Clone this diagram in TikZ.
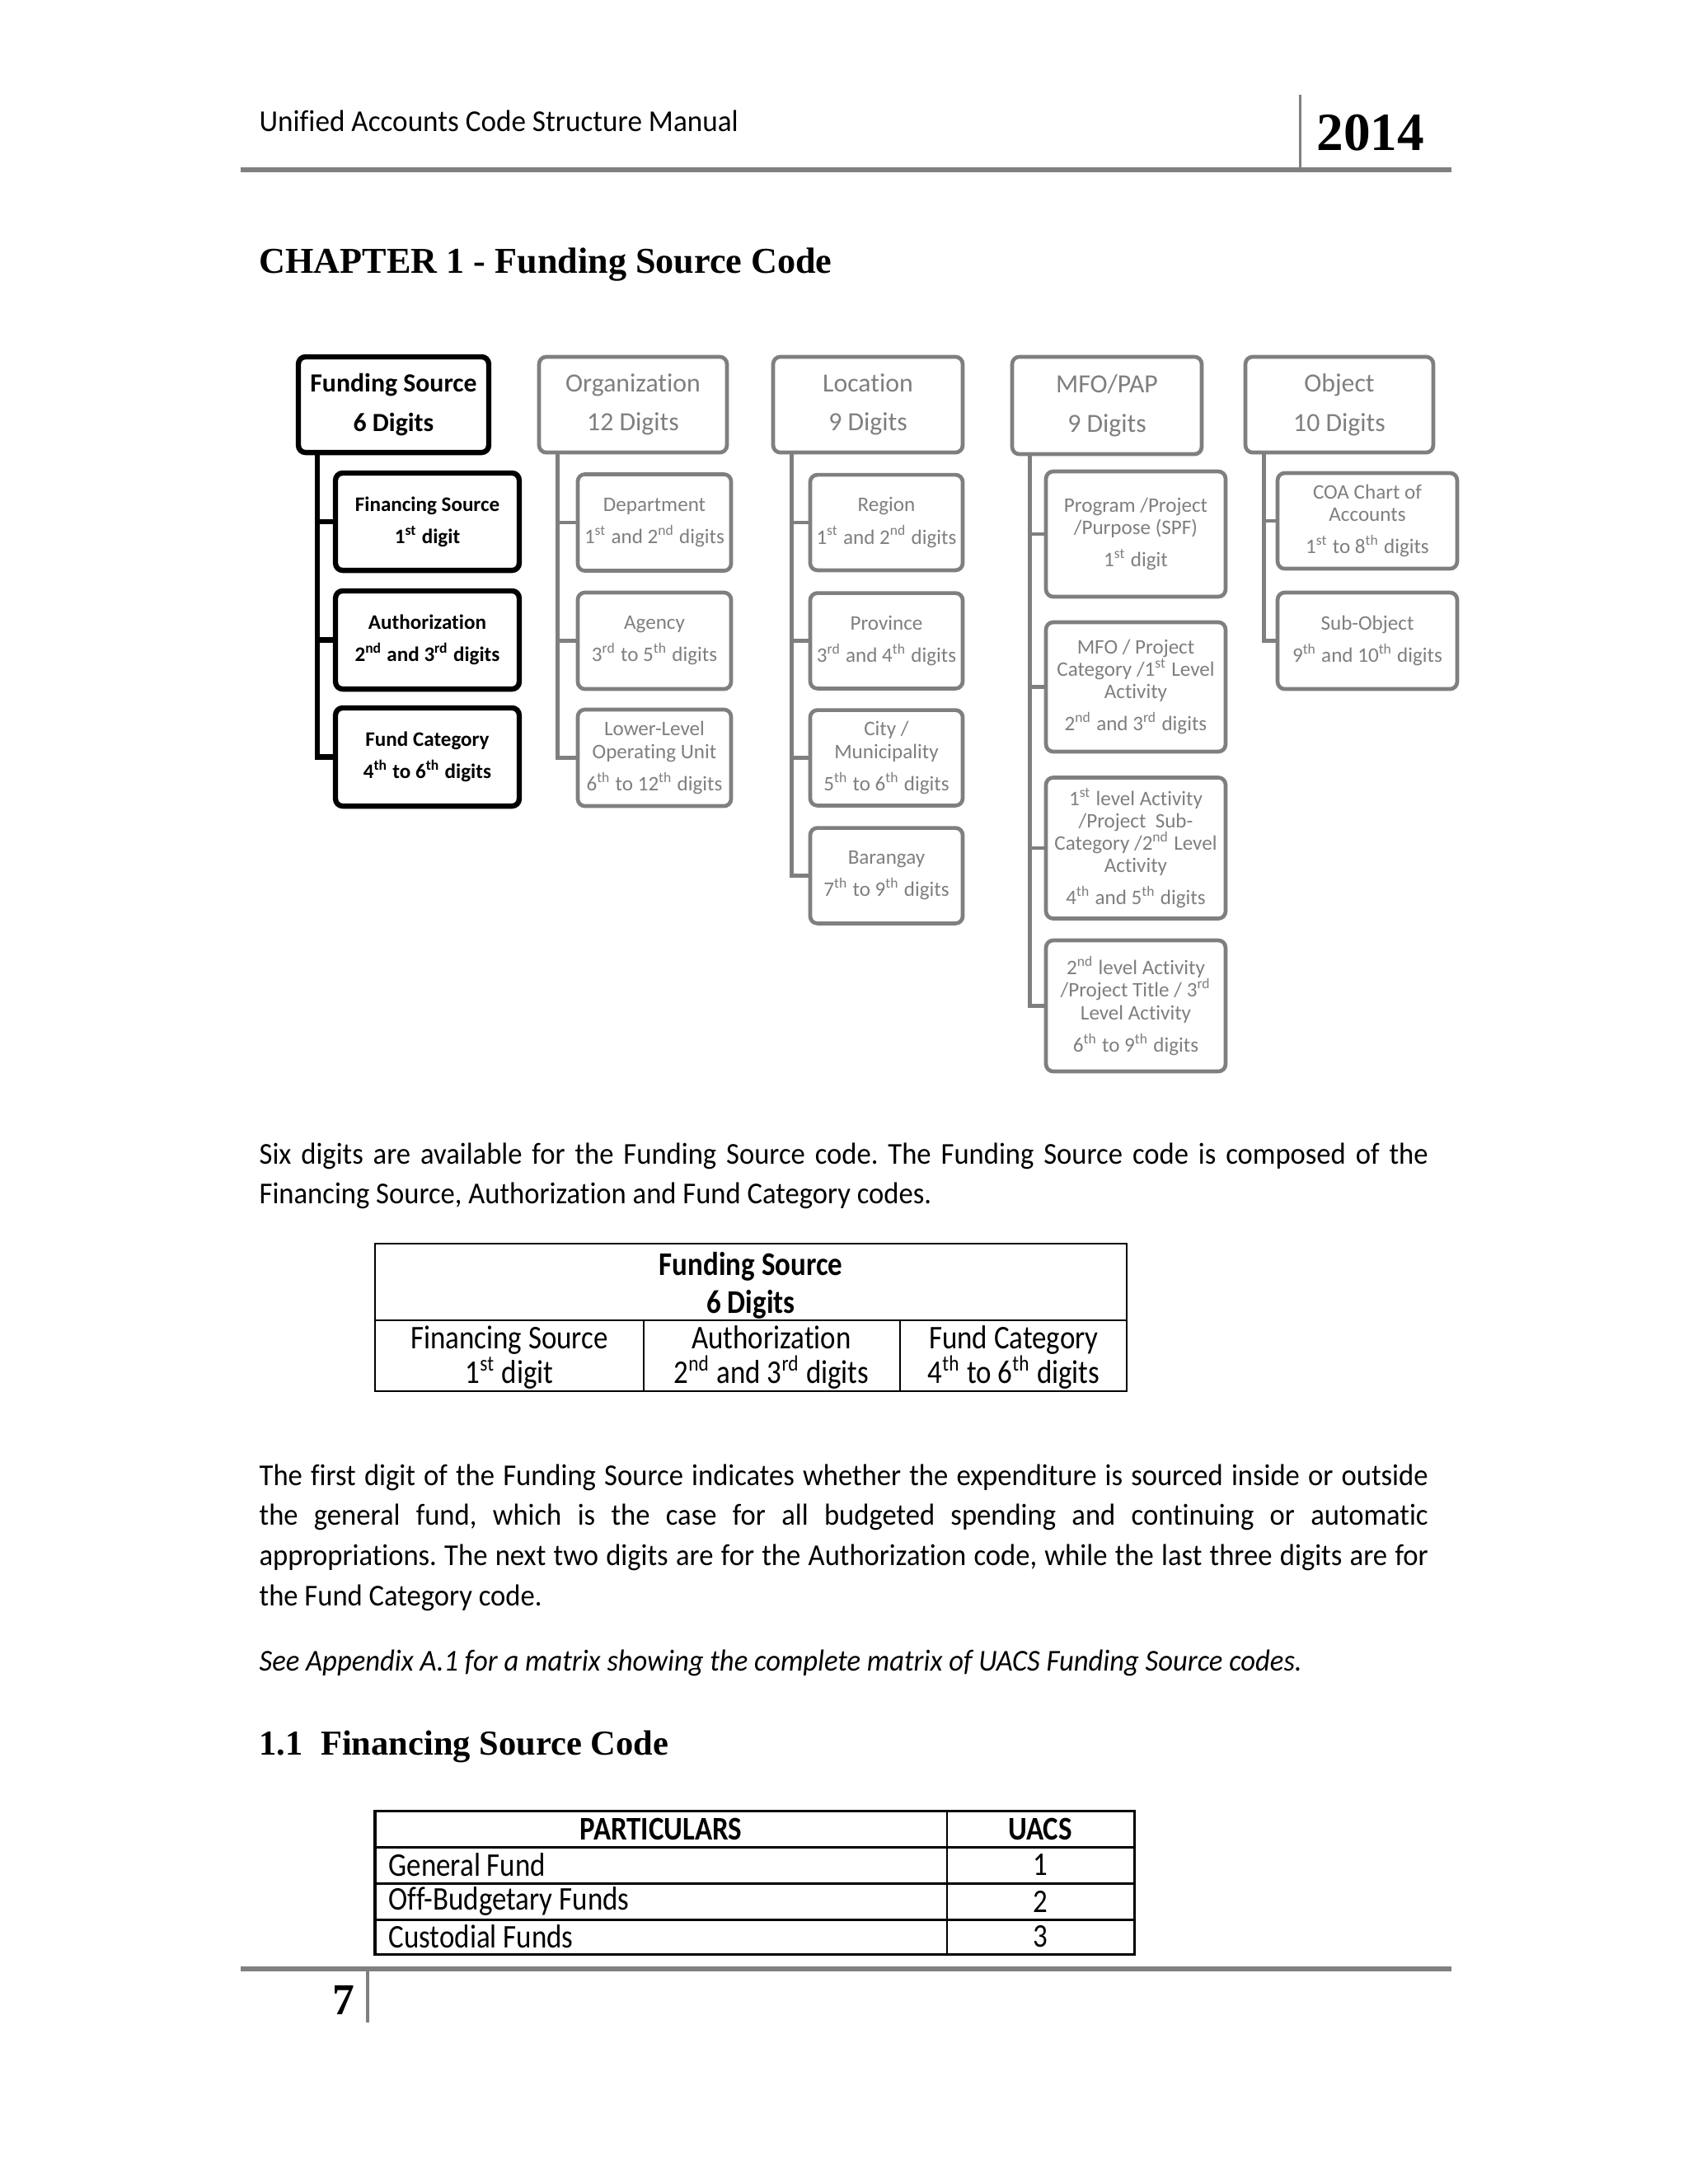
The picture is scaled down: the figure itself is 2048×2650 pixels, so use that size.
\documentclass[tikz,border=0pt]{standalone}
\usepackage{fontspec}
\setmainfont{Carlito}[Ligatures=NoCommon]
\newfontfamily\bodyfont{Carlito}[FakeStretch=0.94,Ligatures=NoCommon]
\newfontfamily\tablefont{Carlito}[FakeStretch=0.87,Ligatures=NoCommon]
\newfontfamily\headserif{Liberation Serif}
\usepackage{tikz}
\definecolor{boxgray}{HTML}{7F7F7F}
\definecolor{rulegray}{HTML}{808080}
\newcommand{\ord}[1]{\textsuperscript{#1}}
\tikzset{
  lvlbox/.style={draw=boxgray,text=boxgray,line width=1.4pt,rounded corners=2.6pt,align=center,inner sep=0pt},
  lvlhead/.style={lvlbox,font=\fontsize{9.5}{11}\selectfont,minimum height=34.7pt},
  lvlsub/.style={lvlbox,font=\fontsize{7.5}{8.1}\selectfont},
  keyhead/.style={lvlhead,draw=black,text=black,line width=1.9pt,font=\fontsize{9.5}{11}\selectfont\bfseries},
  keysub/.style={lvlsub,draw=black,text=black,line width=1.9pt,font=\fontsize{7.5}{8.1}\selectfont\bfseries},
  trunk/.style={boxgray,line width=1.4pt},
  keytrunk/.style={black,line width=2pt},
  para/.style={text width=423.8pt,align=justify,inner sep=0pt,font=\bodyfont\fontsize{11}{14.6}\selectfont\frenchspacing,anchor=base west},
  cell/.style={inner sep=0pt,align=center,font=\tablefont\fontsize{12}{13.7}\selectfont}
}

\begin{document}
\begin{tikzpicture}[x=0.29883pt,y=-0.29883pt]
  \useasboundingbox (0,0) rectangle (2048,2650);
  \fill[white] (0,0) rectangle (2048,2650);
  % page header
  \node[anchor=west,inner sep=0pt,font=\fontsize{11}{13}\selectfont] (runhead) at (314,147) {\addfontfeature{FakeStretch=0.955}Unified Accounts Code Structure Manual};
  \node[anchor=west,inner sep=0pt,font=\headserif\fontsize{19.5}{22}\selectfont\bfseries] (year) at (1597,161) {2014};
  \draw[rulegray,line width=1.8pt] (292,206) -- (1761,206);
  \draw[rulegray,line width=0.9pt] (1577,115) -- (1577,206);
  \node[anchor=west,inner sep=0pt,font=\headserif\fontsize{13.2}{15}\selectfont\bfseries] (chap) at (314,321) {CHAPTER 1 - Funding Source Code};

  % funding source (highlighted)
  \node[keyhead,minimum width=69pt] (fs) at (477.5,491) {Funding Source\\[3.2pt]6 Digits};
  \coordinate (fsT) at ([xshift=7.8pt]fs.south west);
  \node[keysub,minimum width=66.6pt,minimum height=35.3pt] (fs1) at (518.5,633) {Financing Source\\[3.6pt]1\ord{st} digit};
  \node[keysub,minimum width=66.6pt,minimum height=35.6pt] (fs2) at (518.5,776.5) {Authorization\\[3.6pt]2\ord{nd} and 3\ord{rd} digits};
  \node[keysub,minimum width=66.6pt,minimum height=35.6pt] (fs3) at (518.5,918.5) {Fund Category\\[3.6pt]4\ord{th} to 6\ord{th} digits};
  \foreach \k in {1,2,3}{\draw[keytrunk] (fsT) |- (fs\k.west);}

  % organization
  \node[lvlhead,minimum width=68.1pt] (og) at (768,491) {Organization\\[3.2pt]12 Digits};
  \coordinate (ogT) at ([xshift=7.5pt]og.south west);
  \foreach \k/\y/\t in {1/634/{Department\\[3.6pt]1\ord{st} and 2\ord{nd} digits},
                        2/777.5/{Agency\\[3.6pt]3\ord{rd} to 5\ord{th} digits},
                        3/919.5/{Lower-Level\\Operating Unit\\[3.6pt]6\ord{th} to 12\ord{th} digits}}{
    \node[lvlsub,minimum width=55.6pt,minimum height=35pt] (og\k) at (794,\y) {\t};
    \draw[trunk] (ogT) |- (og\k.west);
  }

  % location
  \node[lvlhead,minimum width=68.7pt] (lc) at (1053,491) {Location\\[3.2pt]9 Digits};
  \coordinate (lcT) at ([xshift=7.5pt]lc.south west);
  \foreach \k/\y/\t in {1/634/{Region\\[3.6pt]1\ord{st} and 2\ord{nd} digits},
                        2/777.5/{Province\\[3.6pt]3\ord{rd} and 4\ord{th} digits},
                        3/919.5/{City /\\Municipality\\[3.6pt]5\ord{th} to 6\ord{th} digits},
                        4/1062.5/{Barangay\\[3.6pt]7\ord{th} to 9\ord{th} digits}}{
    \node[lvlsub,minimum width=55.3pt,minimum height=34.6pt] (lc\k) at (1075.5,\y) {\t};
    \draw[trunk] (lcT) |- (lc\k.west);
  }

  % mfo/pap
  \node[lvlhead,minimum width=68.7pt,minimum height=35.3pt] (mf) at (1343,492) {MFO/PAP\\[3.2pt]9 Digits};
  \coordinate (mfT) at ([xshift=7.2pt]mf.south west);
  \node[lvlsub,minimum width=65.1pt,minimum height=45.4pt] (mf1) at (1378,648) {Program /Project\\/Purpose (SPF)\\[3.6pt]1\ord{st} digit};
  \node[lvlsub,minimum width=65.1pt,minimum height=46.9pt] (mf2) at (1378,833.5) {MFO / Project\\Category /1\ord{st} Level\\Activity\\[3.6pt]2\ord{nd} and 3\ord{rd} digits};
  \node[lvlsub,minimum width=65.1pt,minimum height=51.1pt] (mf3) at (1378,1029) {1\ord{st} level Activity\\/Project\ \ Sub-\\Category /2\ord{nd} Level\\Activity\\[3.6pt]4\ord{th} and 5\ord{th} digits};
  \node[lvlsub,minimum width=65.1pt,minimum height=47.5pt] (mf4) at (1378,1220.5) {2\ord{nd} level Activity\\/Project Title / 3\ord{rd}\\Level Activity\\[3.6pt]6\ord{th} to 9\ord{th} digits};
  \foreach \k in {1,...,4}{\draw[trunk] (mfT) |- (mf\k.west);}

  % object
  \node[lvlhead,minimum width=68.1pt] (ob) at (1625,491) {Object\\[3.2pt]10 Digits};
  \coordinate (obT) at ([xshift=7.5pt]ob.south west);
  \node[lvlsub,minimum width=65.1pt,minimum height=34.7pt] (ob1) at (1659,632) {COA Chart of\\Accounts\\[3.6pt]1\ord{st} to 8\ord{th} digits};
  \node[lvlsub,minimum width=65.1pt,minimum height=35pt] (ob2) at (1659,777.5) {Sub-Object\\[3.6pt]9\ord{th} and 10\ord{th} digits};
  \foreach \k in {1,2}{\draw[trunk] (obT) |- (ob\k.west);}

  % text
  \node[para] (intro) at (314,1412) {Six digits are available for the Funding Source code. The Funding Source code is composed of the\linebreak Financing Source, Authorization and Fund Category codes.};

  % table of the six digits
  \draw[line width=0.6pt] (455,1509) rectangle (1367,1688);
  \draw[line width=0.6pt] (455,1602) -- (1367,1602);
  \draw[line width=0.6pt] (781,1602) -- (781,1688);
  \draw[line width=0.6pt] (1092,1602) -- (1092,1688);
  \node[cell,font=\tablefont\fontsize{12}{13.7}\selectfont\bfseries] (tfs) at (911,1560) {Funding Source\\6 Digits};
  \node[cell,font=\tablefont\fontsize{12}{12.5}\selectfont] (tfs1) at (618,1647) {Financing Source\\1\ord{st} digit};
  \node[cell,font=\tablefont\fontsize{12}{12.5}\selectfont] (tfs2) at (936,1647) {Authorization\\2\ord{nd} and 3\ord{rd} digits};
  \node[cell,font=\tablefont\fontsize{12}{12.5}\selectfont] (tfs3) at (1230,1647) {Fund Category\\4\ord{th} to 6\ord{th} digits};

  \node[para] (detail) at (314,1802) {The first digit of the Funding Source indicates whether the expenditure is sourced inside or outside\linebreak the general fund, which is the case for all budgeted spending and continuing or automatic\linebreak appropriations. The next two digits are for the Authorization code, while the last three digits are for\linebreak the Fund Category code.};
  \node[para] (seeapp) at (314,2027) {\itshape See Appendix A.1 for a matrix showing the complete matrix of UACS Funding Source codes.};

  \node[anchor=west,inner sep=0pt,font=\headserif\fontsize{12.7}{15}\selectfont\bfseries] (sec) at (314,2119) {1.1\ \ Financing Source Code};

  % table of financing sources
  \draw[line width=0.9pt] (455,2197) rectangle (1376,2371);
  \foreach \y in {2241,2285,2329}{\draw[line width=0.9pt] (455,\y) -- (1376,\y);}
  \draw[line width=0.6pt] (1149,2197) -- (1149,2371);
  \node[cell,font=\tablefont\fontsize{12}{13}\selectfont\bfseries] (tpart) at (802,2219) {PARTICULARS};
  \node[cell,font=\tablefont\fontsize{12}{13}\selectfont\bfseries] (tuacs) at (1262,2219) {UACS};
  \foreach \k/\y/\t in {1/2263/General Fund,2/2307/Off-Budgetary Funds,3/2350/Custodial Funds}{
    \node[cell,anchor=west] (trow\k) at (471,\y) {\t};
    \node[cell] (tval\k) at (1262,\y) {\k};
  }

  % page footer
  \draw[rulegray,line width=1.8pt] (292,2389) -- (1761,2389);
  \draw[rulegray,line width=0.9pt] (446,2389) -- (446,2454);
  \node[inner sep=0pt,font=\headserif\fontsize{16}{18}\selectfont\bfseries] (pageno) at (417,2427) {7};
\end{tikzpicture}
\end{document}
